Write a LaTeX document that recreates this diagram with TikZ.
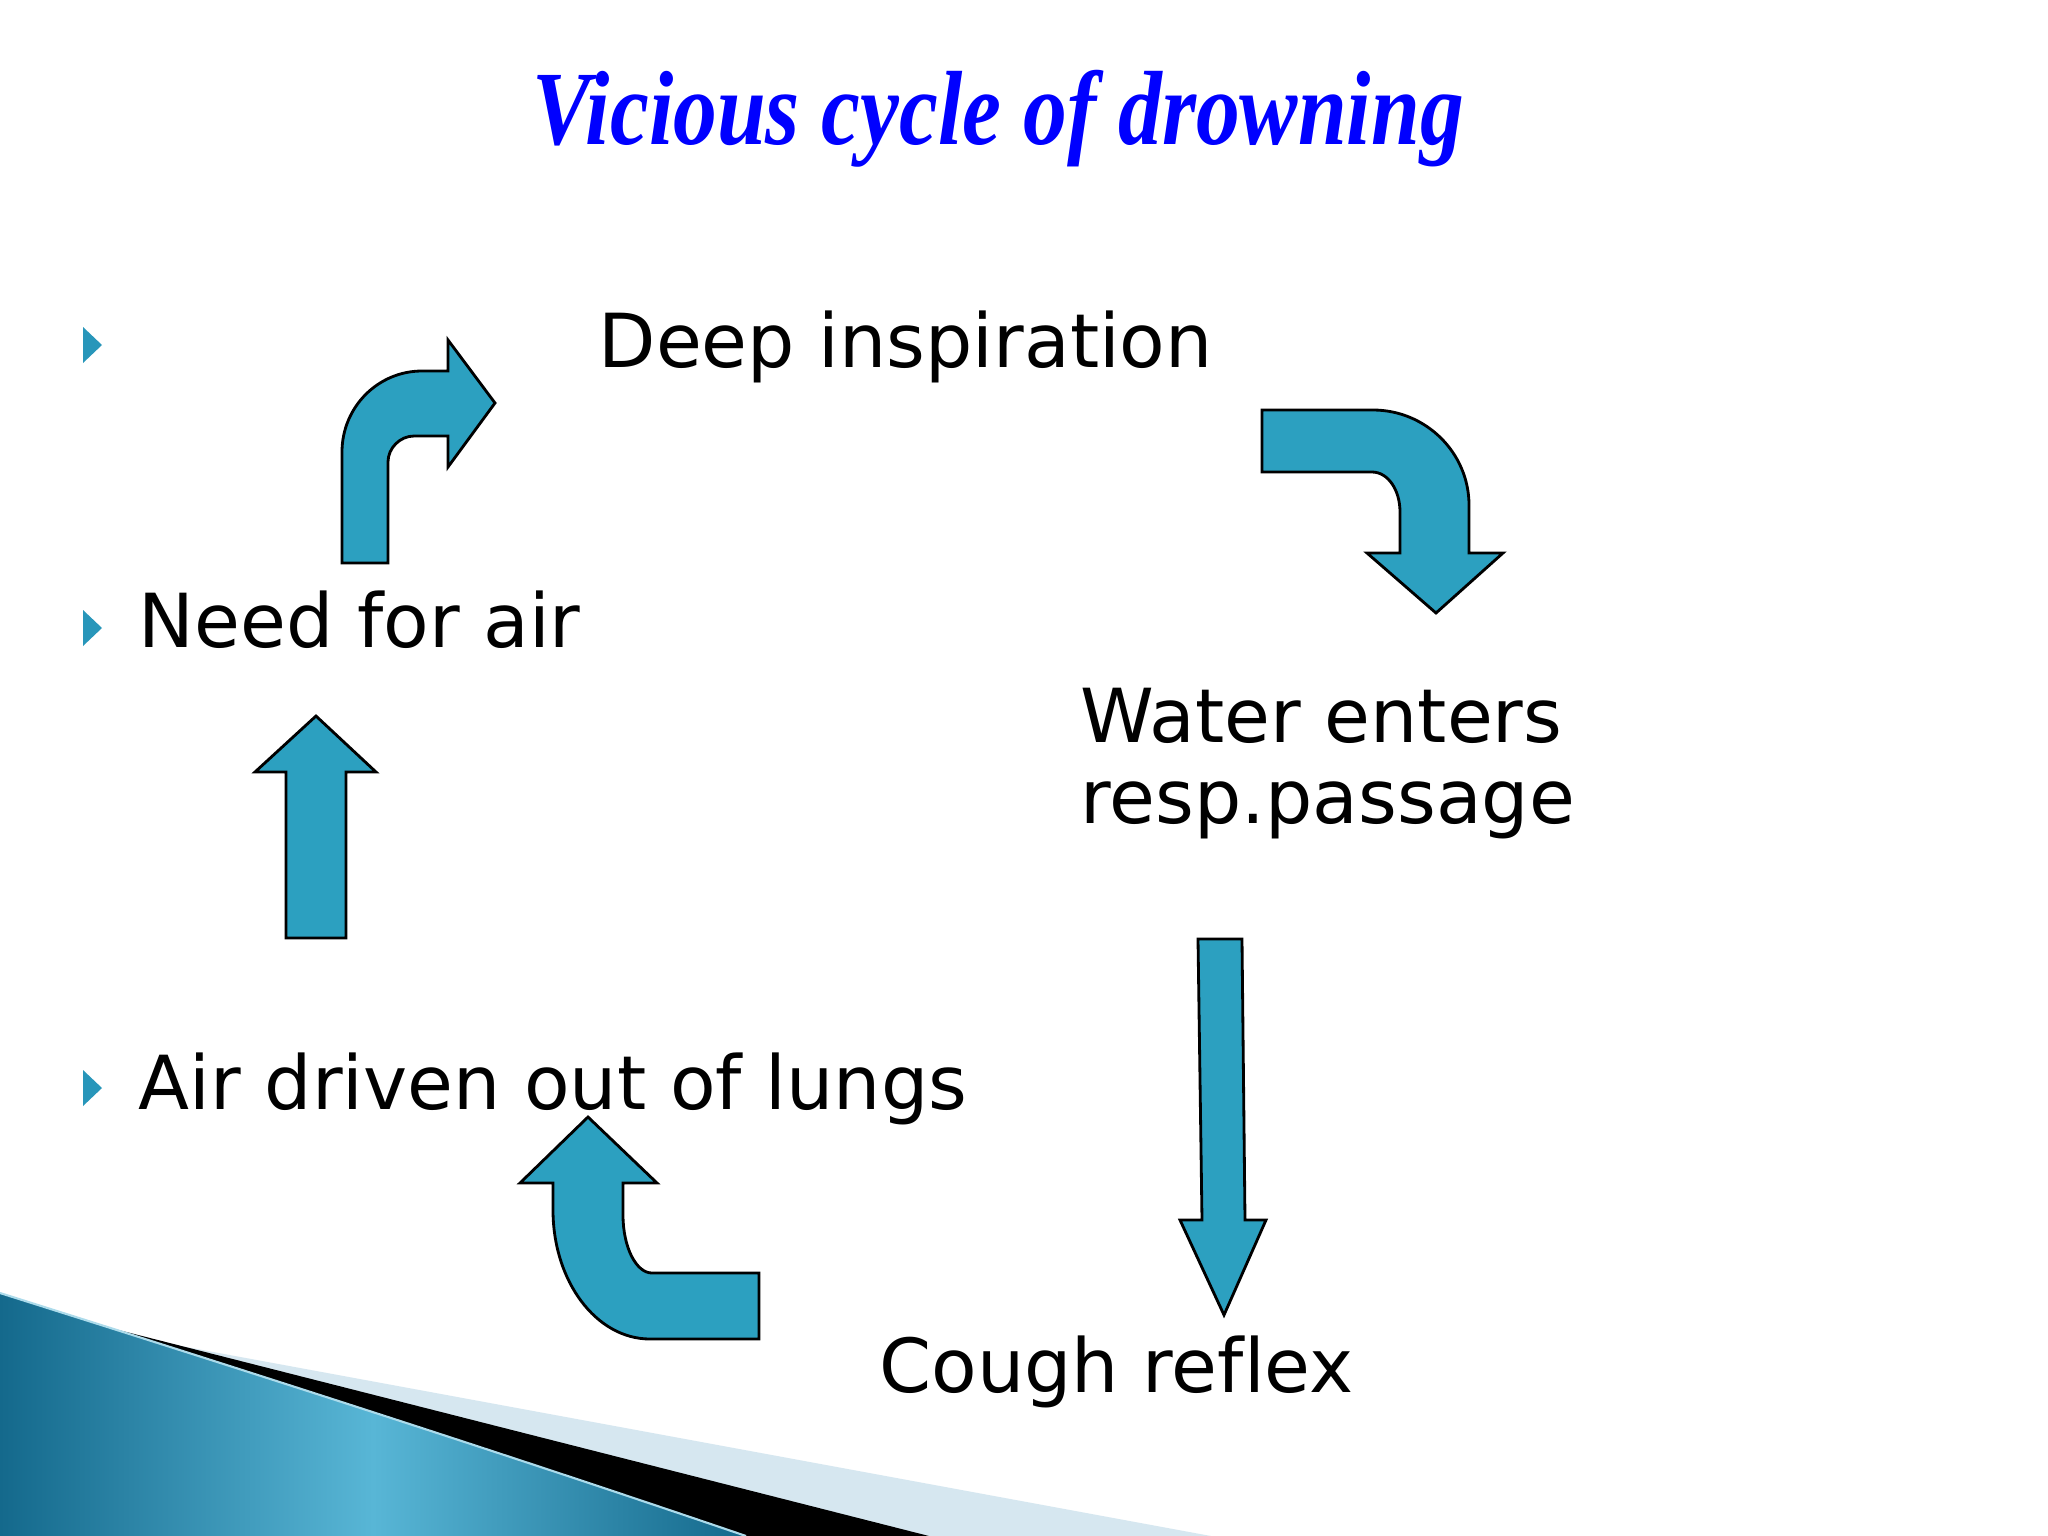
\documentclass[tikz,border=0pt]{standalone}
\usepackage{fontspec}
\usepackage{graphicx}
\setmainfont{DejaVu Sans}[Ligatures=NoCommon]
\newfontfamily\titlefont{Liberation Serif}
\usetikzlibrary{positioning}
\definecolor{arrowteal}{RGB}{44,160,192}
\definecolor{bullteal}{RGB}{40,150,186}
\definecolor{titleblue}{RGB}{0,0,255}
\definecolor{swdark}{RGB}{20,105,140}
\definecolor{swlight}{RGB}{88,182,214}
\definecolor{swpale}{RGB}{214,231,240}
\begin{document}
\begin{tikzpicture}[x=0.01cm,y=-0.01cm,line join=miter,
	blockarrow/.style={fill=arrowteal,draw=black,line width=0.8pt},
	bulletmark/.style={fill=bullteal,draw=none},
	steptext/.style={anchor=base west,inner sep=0pt,font=\fontsize{21.2}{25}\selectfont}]
	\useasboundingbox[fill=white] (0,0) rectangle (2048,1536);
	% swoosh in the corner
	\fill[swpale] (170,1344) -- (1211,1536) -- (0,1536) -- cycle;
	\fill[black] (95,1324) -- (929,1536) -- (0,1536) -- cycle;
	\shade[left color=swdark,right color=swdark,middle color=swlight] (0,1293) .. controls (250,1372) and (500,1452) .. (746,1536) -- (0,1536) -- cycle;
	\draw[swlight!50!white,line width=0.6pt] (0,1293) .. controls (250,1372) and (500,1452) .. (746,1536);
	\node[anchor=base,inner sep=0pt,text=titleblue,font=\titlefont\bfseries\itshape\fontsize{30}{34}\selectfont] (title) at (998,144) {\scalebox{0.83}[1]{Vicious cycle of drowning}};
	\foreach \yb in {345,628,1088}
		\fill[bulletmark] (83,\yb-18) -- (102,\yb) -- (83,\yb+18) -- cycle;
	\node[steptext] (deep) at (598,367) {Deep inspiration};
	\node[steptext] (need) at (138,647) {Need for air};
	\node[steptext] (water) at (1080,742) {Water enters};
	\node[steptext] (resp) at (1080,823) {resp.passage};
	\node[steptext] (airout) at (138,1109) {Air driven out of lungs};
	\node[steptext] (cough) at (879,1392) {Cough reflex};
	% block arrows round the cycle
	\draw[blockarrow] (342,563) -- (342,452) .. controls (342,407) and (378,371) .. (422,371) -- (448,371) -- (448,340) -- (495,403) -- (448,467) -- (448,436) -- (414,436) .. controls (400,436) and (388,448) .. (388,462) -- (388,563) -- cycle;
	\draw[blockarrow] (1262,410) -- (1373,410) .. controls (1426,410) and (1469,453) .. (1469,505) -- (1469,553) -- (1503,553) -- (1436,613) -- (1367,553) -- (1400,553) -- (1400,512) .. controls (1400,490) and (1388,472) .. (1372,472) -- (1262,472) -- cycle;
	\draw[blockarrow] (1198,939) -- (1242,939) -- (1245,1220) -- (1266,1220) -- (1224,1315) -- (1180,1220) -- (1202,1220) -- cycle;
	\draw[blockarrow] (588,1117) -- (657,1183) -- (623,1183) -- (623,1215) .. controls (623,1247) and (636,1273) .. (652,1273) -- (759,1273) -- (759,1339) -- (650,1339) .. controls (596,1339) and (553,1281) .. (553,1210) -- (553,1183) -- (520,1183) -- cycle;
	\draw[blockarrow] (316,716) -- (376,772) -- (346,772) -- (346,938) -- (286,938) -- (286,772) -- (255,772) -- cycle;
\end{tikzpicture}
\end{document}
